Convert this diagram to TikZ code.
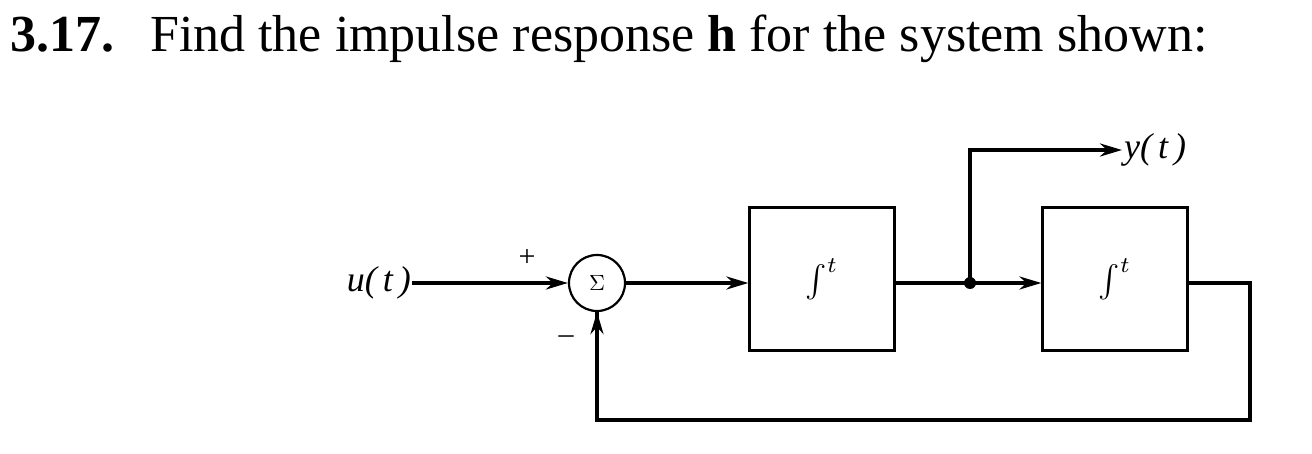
\documentclass[tikz,border=0pt]{standalone}
\usepackage{fontspec}
\usepackage{graphicx}
\setmainfont{Liberation Serif}
\usetikzlibrary{arrows.meta}
\begin{document}
\begin{tikzpicture}[x=1pt,y=-1pt,
  line/.style={line width=3.5pt},
  arr/.style={line, -{Stealth[length=22pt,width=13pt]}},
  blk/.style={draw,line width=2.2pt,minimum width=145pt,minimum height=143pt},
  lbl/.style={font=\fontsize{36}{38}\selectfont\itshape}]
\useasboundingbox (0,0) rectangle (1312,454);
\node[anchor=base west,inner sep=0pt,font=\fontsize{52}{56}\selectfont] (title) at (10,52) {\textbf{3.17.}\hspace{36pt}Find the impulse response \textbf{h} for the system shown:};
\node[draw,circle,line width=2.2pt,minimum size=56pt,inner sep=0pt] (sum) at (597,283) {\scalebox{2.2}{$\Sigma$}};
\node[blk] (b1) at (822,279) {\scalebox{3.2}{$\int^{t}$}};
\node[blk] (b2) at (1115,279) {\scalebox{3.2}{$\int^{t}$}};
\node[lbl,anchor=east,inner sep=1pt] (u) at (412,283) {u(\,t\,)};
\node[lbl,anchor=west,inner sep=2pt] (y) at (1122,150) {y(\,t\,)};
\coordinate (j) at (970,283);
\coordinate (jt) at (970,150);
\coordinate (r) at (1250,283);
\coordinate (rb) at (1250,420);
\coordinate (lb) at (597,420);
\draw[arr] (u.east) -- (sum.west);
\draw[arr] (sum.east) -- (b1.west |- sum.east);
\draw[line] (b1.east |- j) -- (j);
\draw[arr] (j) -- (b2.west |- j);
\draw[arr] (j) -- (jt) -- (y.west);
\fill (j) circle (6pt);
\draw[line] (b2.east |- j) -- (r) -- (rb) -- (lb) -- (sum.south) ;
\draw[arr] (lb) -- (sum.south);
\node[font=\fontsize{30}{32}\selectfont] (plus) at (527,258) {+};
\node[font=\fontsize{30}{32}\selectfont] (minus) at (566,340) {--};
\end{tikzpicture}
\end{document}
